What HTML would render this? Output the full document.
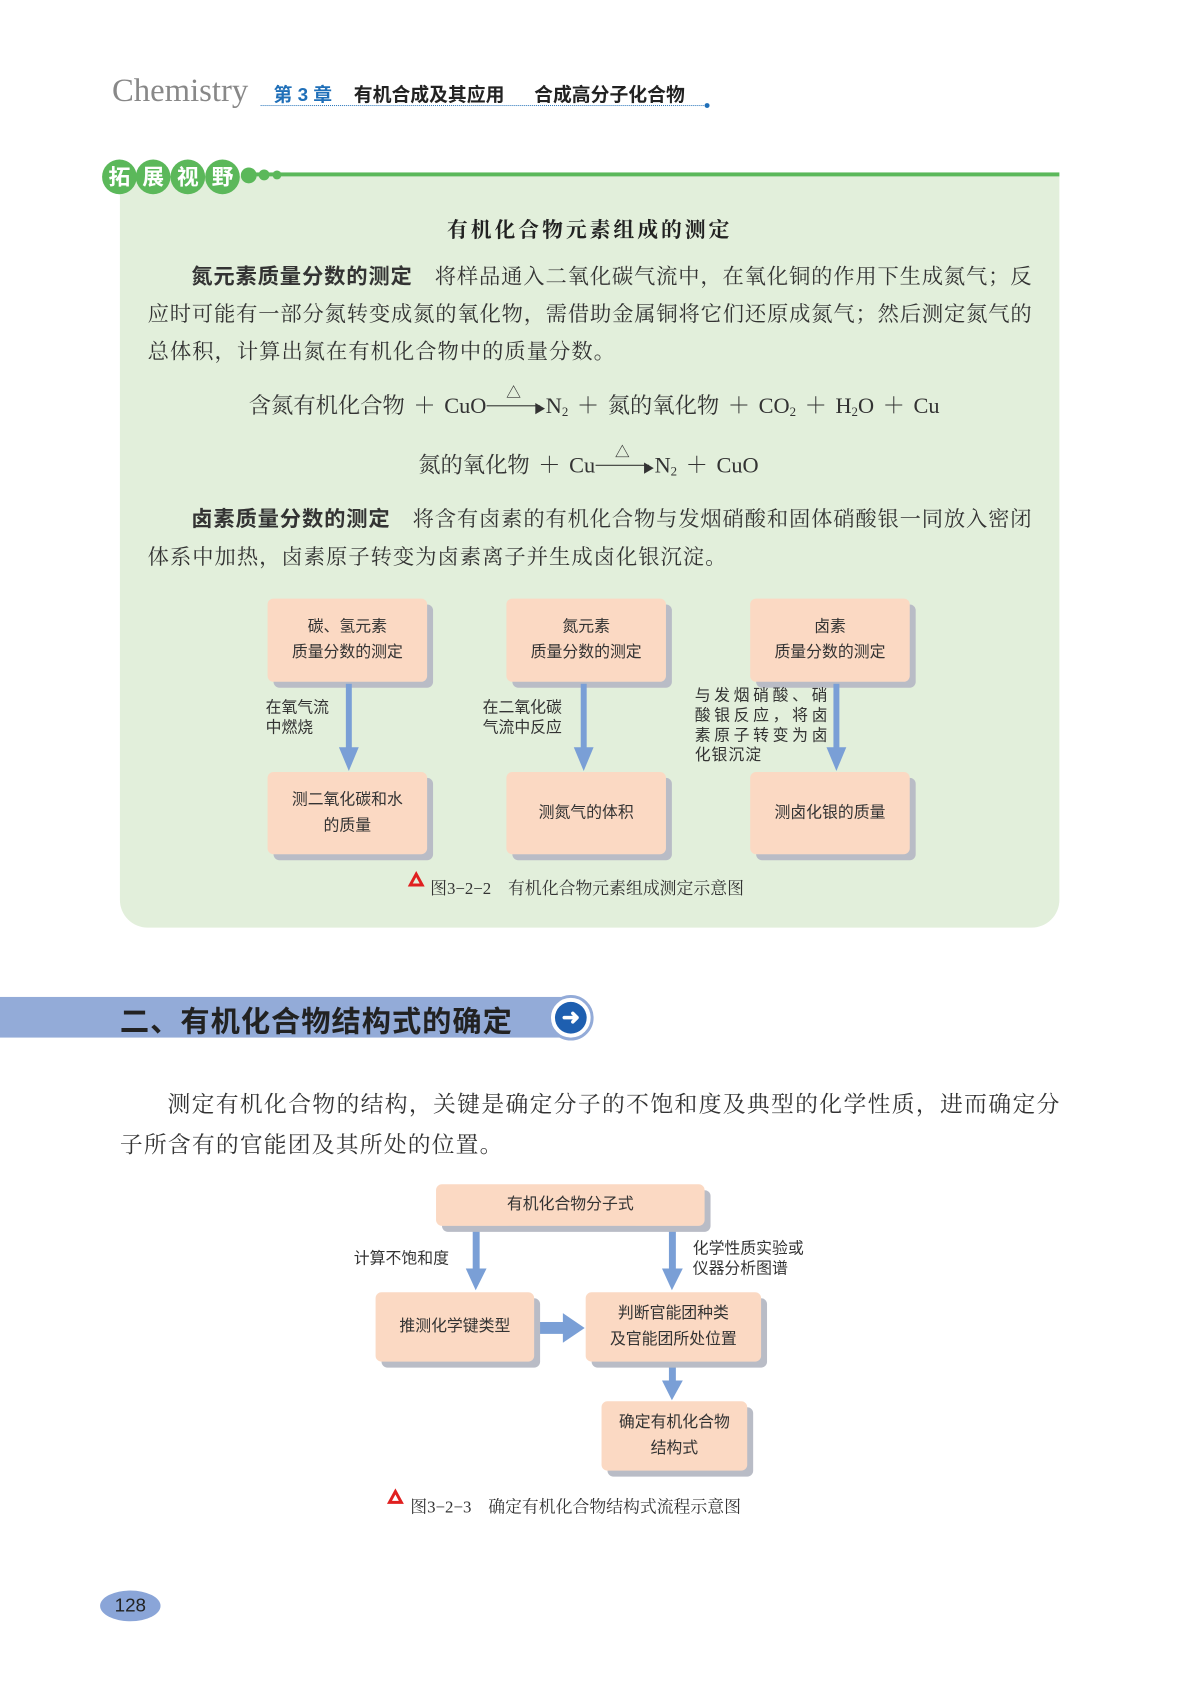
<!DOCTYPE html>
<html><head><meta charset="utf-8">
<style>
*{margin:0;padding:0;box-sizing:border-box}
body{width:1190px;height:1683px;background:#fff;position:relative;overflow:hidden;font-family:"Liberation Serif","Noto Serif CJK SC","Noto Sans CJK SC",serif;color:#333}
#w{position:absolute;left:0;top:0;width:1190px;height:1683px;transform:scale(0.991);transform-origin:0 0}
.a{position:absolute}
.sans{font-family:"Liberation Sans","Noto Sans CJK SC",sans-serif}
.line{position:absolute;text-align:justify;text-align-last:justify;white-space:nowrap}
.box{position:absolute;background:#fbd9c3;border-radius:6px;box-shadow:6px 6px 0 #b9bcc6;display:flex;align-items:center;justify-content:center;text-align:center;font-family:"Liberation Sans","Noto Sans CJK SC",sans-serif;font-size:16px;line-height:26px;color:#333}
.lbl{position:absolute;font-family:"Liberation Sans","Noto Sans CJK SC",sans-serif;font-size:16px;line-height:20px;color:#333}
.circ{position:absolute;width:35px;height:35px;border-radius:50%;background:#5bb85a;color:#fff;font-weight:bold;font-size:22px;text-align:center;line-height:35px;font-family:"Liberation Sans","Noto Sans CJK SC",sans-serif}
sub{font-size:13px;vertical-align:-3px}
.arr{display:inline-block;position:relative;width:60px;height:10px}
.arr .l{position:absolute;left:0;top:2px;width:54px;border-top:1.5px solid #222}
.arr .h{position:absolute;right:0;top:-3px;font-size:12px}
.arr .d{position:absolute;left:20px;top:-22px;font-size:15px}
</style></head><body><div id="w">

<div class="a" style="left:113px;top:74px;font-size:33px;color:#888;font-family:'Liberation Serif',serif">Chemistry</div>
<div class="a sans" style="left:276px;top:81px;font-size:19px;font-weight:bold;color:#1f6fb8">第 3 章</div>
<div class="a sans" style="left:357px;top:81px;font-size:19px;font-weight:bold;color:#222">有机合成及其应用</div>
<div class="a sans" style="left:539px;top:81px;font-size:19px;font-weight:bold;color:#222">合成高分子化合物</div>
<div class="a" style="left:263px;top:106px;width:451px;border-top:1px dotted #1f6fb8"></div>
<div class="a" style="left:711px;top:104px;width:5px;height:5px;border-radius:50%;background:#1f6fb8"></div>

<div class="a" style="left:121px;top:178px;width:948px;height:758px;background:#e2efdb;border-radius:0 0 28px 28px"></div>
<div class="a" style="left:249px;top:174px;width:820px;height:4px;background:#5bb85a"></div>
<div class="circ" style="left:103px;top:161px">拓</div>
<div class="circ" style="left:137px;top:161px">展</div>
<div class="circ" style="left:172px;top:161px">视</div>
<div class="circ" style="left:207px;top:161px">野</div>
<div class="a" style="left:243px;top:169px;width:16px;height:16px;border-radius:50%;background:#5bb85a"></div>
<div class="a" style="left:261px;top:171px;width:11px;height:11px;border-radius:50%;background:#5bb85a"></div>
<div class="a" style="left:275px;top:172px;width:9px;height:9px;border-radius:50%;background:#5bb85a"></div>

<div class="a" style="left:0;width:1190px;top:216px;text-align:center;font-size:21px;font-weight:bold;letter-spacing:3px;color:#222">有机化合物元素组成的测定</div>

<div class="line" style="left:149px;width:892px;top:262px;font-size:21.5px"><span style="margin-left:44px;font-weight:bold" class="sans">氮元素质量分数的测定</span>　将样品通入二氧化碳气流中，在氧化铜的作用下生成氮气；反</div>
<div class="line" style="left:149px;width:892px;top:300px;font-size:21.5px">应时可能有一部分氮转变成氮的氧化物，需借助金属铜将它们还原成氮气；然后测定氮气的</div>
<div class="a" style="left:149px;top:338px;font-size:21.5px;letter-spacing:1px">总体积，计算出氮在有机化合物中的质量分数。</div>

<div class="a" style="left:251px;top:392px;font-size:22.5px;white-space:nowrap;word-spacing:3px">含氮有机化合物 ＋ CuO<span class="arr"><span class="l"></span><span class="h">▶</span><span class="d">△</span></span>N<sub>2</sub> ＋ 氮的氧化物 ＋ CO<sub>2</sub> ＋ H<sub>2</sub>O ＋ Cu</div>
<div class="a" style="left:422px;top:452px;font-size:22.5px;white-space:nowrap;word-spacing:3px">氮的氧化物 ＋ Cu<span class="arr"><span class="l"></span><span class="h">▶</span><span class="d">△</span></span>N<sub>2</sub> ＋ CuO</div>

<div class="line" style="left:149px;width:892px;top:507px;font-size:21.5px"><span style="margin-left:44px;font-weight:bold" class="sans">卤素质量分数的测定</span>　将含有卤素的有机化合物与发烟硝酸和固体硝酸银一同放入密闭</div>
<div class="a" style="left:149px;top:545px;font-size:21.5px;letter-spacing:1px">体系中加热，卤素原子转变为卤素离子并生成卤化银沉淀。</div>

<div class="box" style="left:270px;top:604px;width:161px;height:84px">碳、氢元素<br>质量分数的测定</div>
<div class="box" style="left:511px;top:604px;width:161px;height:84px">氮元素<br>质量分数的测定</div>
<div class="box" style="left:757px;top:604px;width:161px;height:84px">卤素<br>质量分数的测定</div>
<div class="box" style="left:270px;top:779px;width:161px;height:83px">测二氧化碳和水<br>的质量</div>
<div class="box" style="left:511px;top:779px;width:161px;height:83px">测氮气的体积</div>
<div class="box" style="left:757px;top:779px;width:161px;height:83px">测卤化银的质量</div>
<svg class="a" style="left:0;top:0" width="1190" height="1683">
<g fill="#7a9fd6" stroke="none">
<rect x="349" y="690" width="6" height="66"/><polygon points="342,754 362,754 352,778"/>
<rect x="586" y="690" width="6" height="66"/><polygon points="579,754 599,754 589,778"/>
<rect x="841" y="690" width="6" height="66"/><polygon points="834,754 854,754 844,778"/>
<rect x="477" y="1239" width="7" height="44"/><polygon points="470,1280 491,1280 480,1302"/>
<rect x="675" y="1239" width="7" height="44"/><polygon points="668,1280 689,1280 678,1302"/>
<rect x="675" y="1377" width="7" height="18"/><polygon points="668,1393 689,1393 678,1413"/>
<rect x="540" y="1334" width="30" height="12"/><polygon points="568,1325 568,1355 590,1340"/>
</g>
<polygon points="414,893 426,893 420,882" fill="none" stroke="#e02020" stroke-width="3"/>
<polygon points="393,1516 405,1516 399,1505" fill="none" stroke="#e02020" stroke-width="3"/>
</svg>
<div class="lbl" style="left:268px;top:705px">在氧气流<br>中燃烧</div>
<div class="lbl" style="left:487px;top:705px">在二氧化碳<br>气流中反应</div>
<div class="lbl" style="left:701px;top:693px;width:135px;text-align:justify;text-align-last:left;letter-spacing:1px">与发烟硝酸、硝酸银反应，将卤素原子转变为卤化银沉淀</div>
<div class="a" style="left:434px;top:882px;font-size:17px;color:#333">图3−2−2　有机化合物元素组成测定示意图</div>

<div class="a" style="left:0;top:1006px;width:575px;height:41px;background:#93abd8"></div>
<div class="a" style="left:553px;top:1004px;width:46px;height:46px;border-radius:50%;background:#fff;border:3px solid #93abd8"></div>
<div class="a" style="left:560px;top:1011px;width:32px;height:32px;border-radius:50%;background:#1e5fb0;color:#fff;font-size:22px;line-height:32px;text-align:center;font-weight:bold">➜</div>
<div class="a sans" style="left:121px;top:1008px;font-size:29.5px;font-weight:bold;color:#222;letter-spacing:1px">二、有机化合物结构式的确定</div>

<div class="line" style="left:121px;width:948px;top:1096px;font-size:23px"><span style="margin-left:48px"></span>测定有机化合物的结构，关键是确定分子的不饱和度及典型的化学性质，进而确定分</div>
<div class="a" style="left:121px;top:1137px;font-size:23px;letter-spacing:1.2px">子所含有的官能团及其所处的位置。</div>

<div class="box" style="left:440px;top:1195px;width:271px;height:42px">有机化合物分子式</div>
<div class="box" style="left:379px;top:1304px;width:160px;height:70px">推测化学键类型</div>
<div class="box" style="left:591px;top:1304px;width:177px;height:70px">判断官能团种类<br>及官能团所处位置</div>
<div class="box" style="left:607px;top:1414px;width:147px;height:70px">确定有机化合物<br>结构式</div>
<div class="lbl" style="left:357px;top:1261px">计算不饱和度</div>
<div class="lbl" style="left:699px;top:1251px">化学性质实验或<br>仪器分析图谱</div>
<div class="a" style="left:414px;top:1506px;font-size:17px;color:#333">图3−2−3　确定有机化合物结构式流程示意图</div>

<div class="a sans" style="left:101px;top:1605px;width:61px;height:31px;border-radius:50%;background:#8aa5d8;text-align:center;line-height:31px;font-size:19px;color:#222">128</div>
</div></body></html>
